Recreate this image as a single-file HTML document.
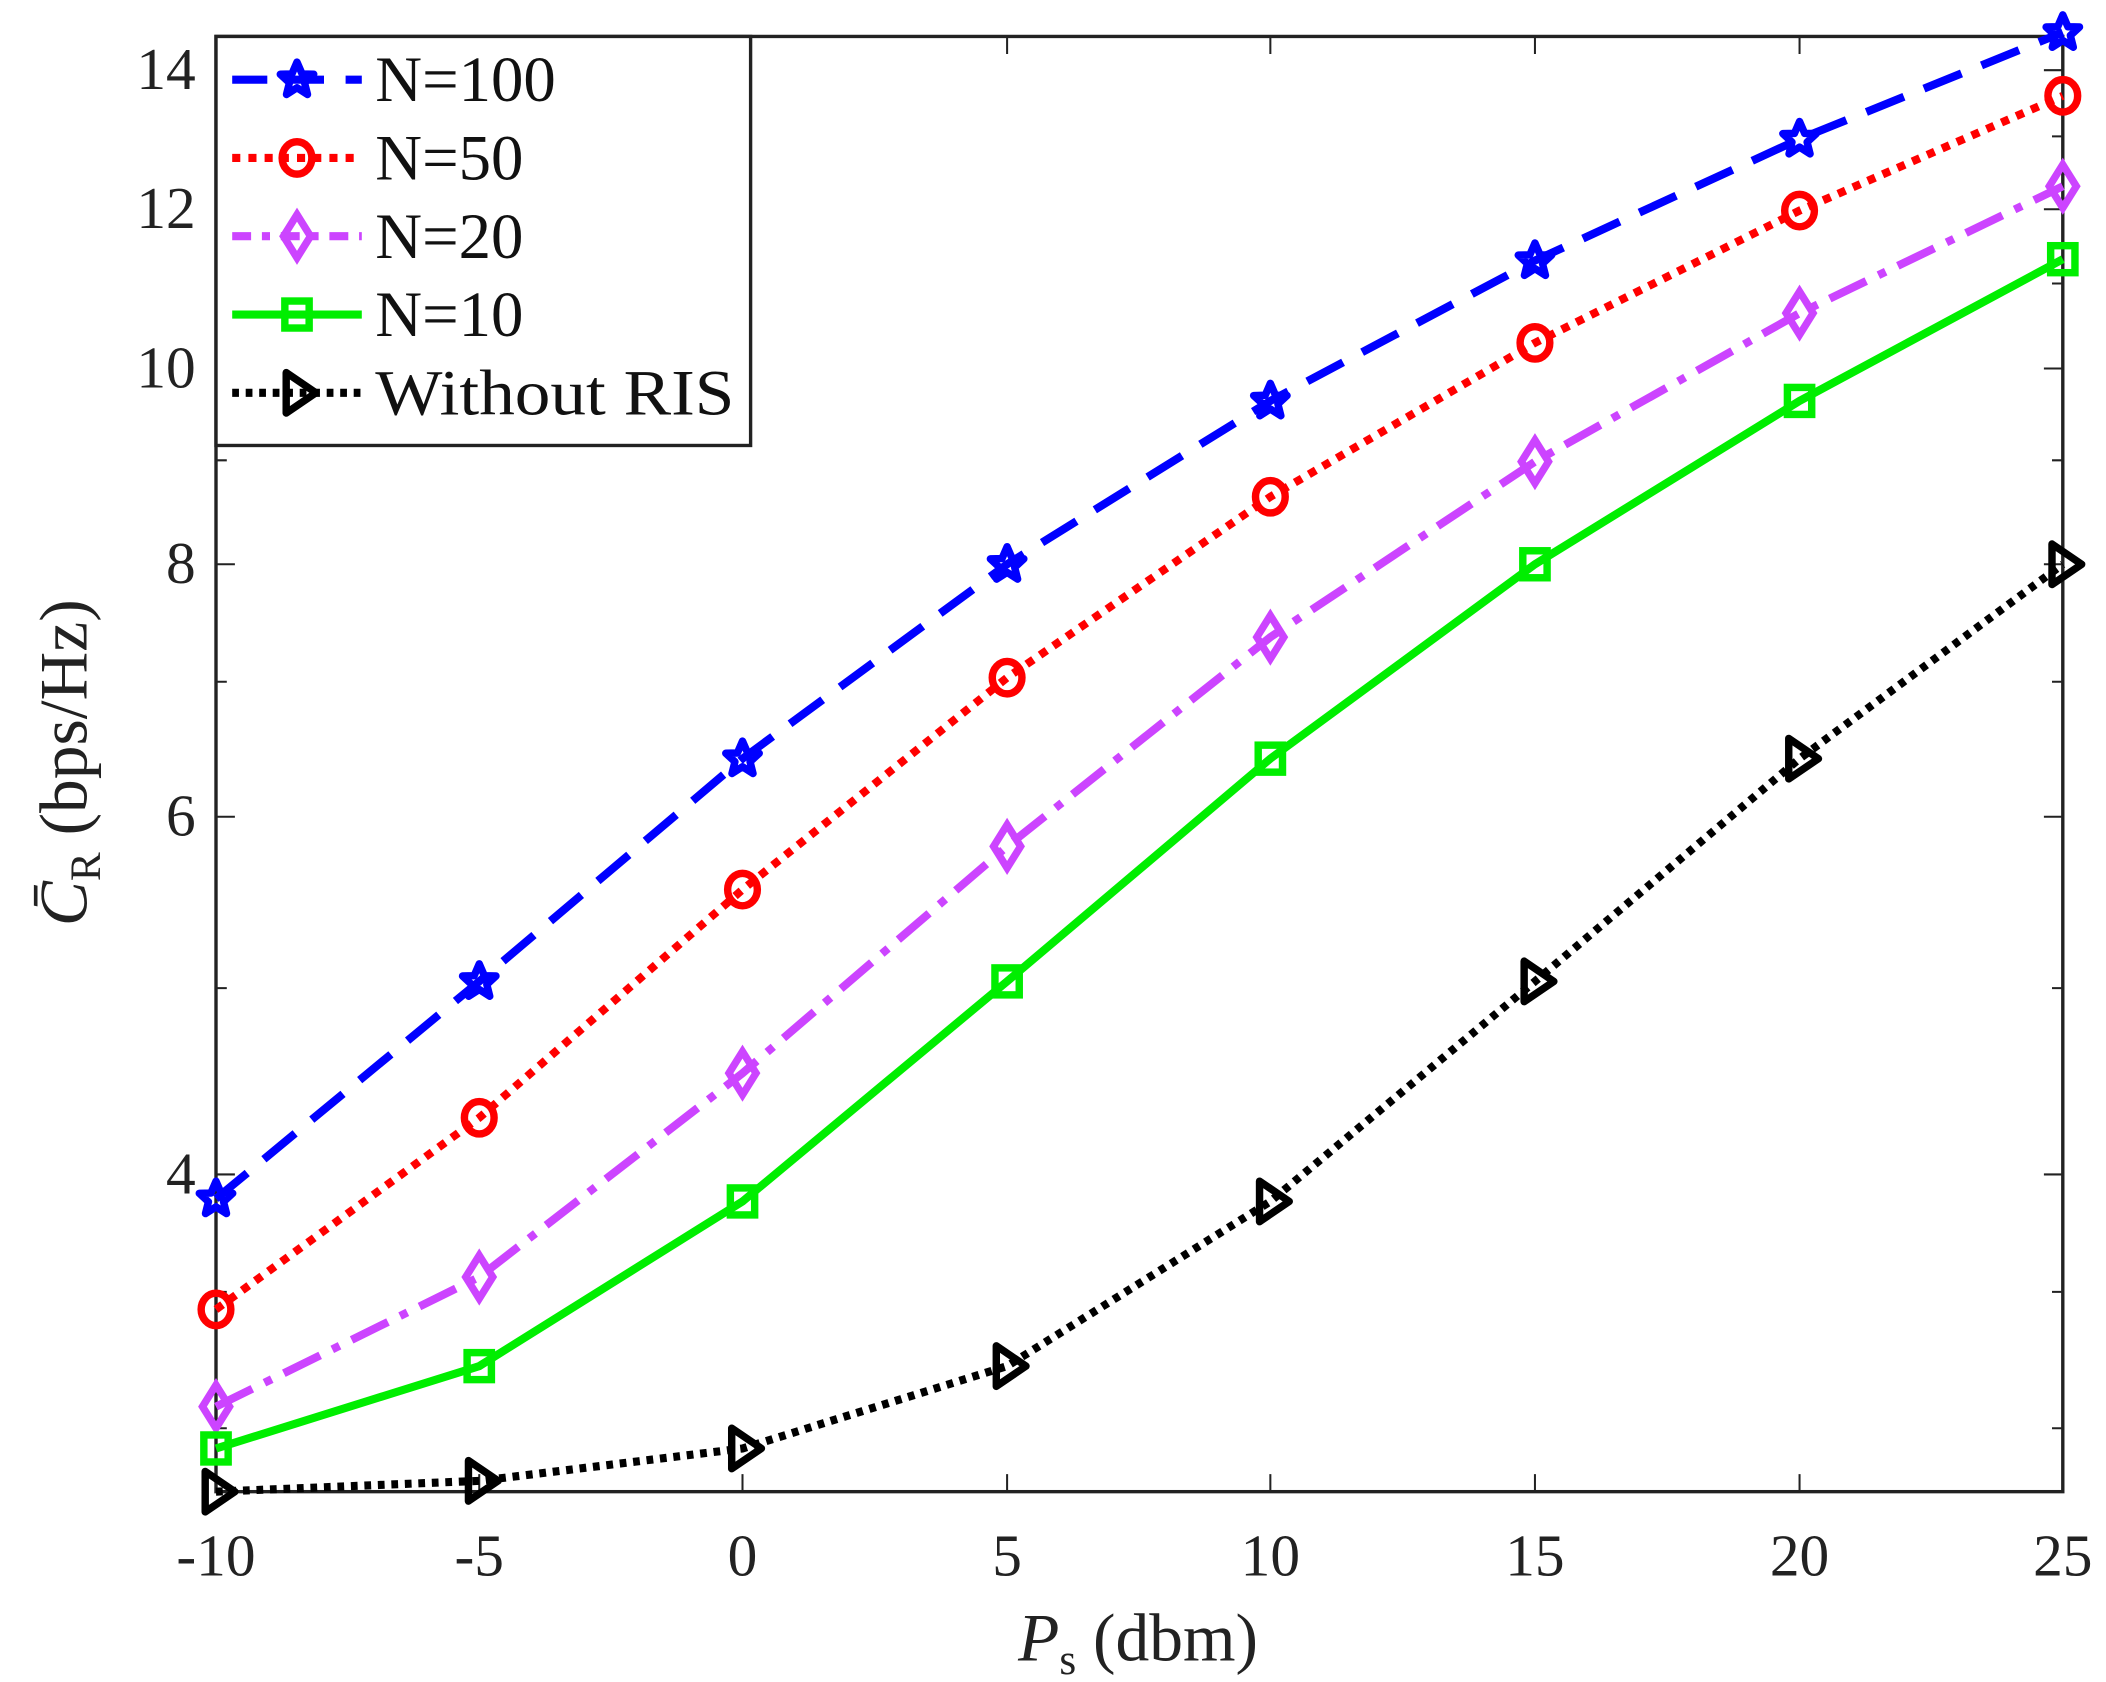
<!DOCTYPE html>
<html><head><style>html,body{margin:0;padding:0;background:#fff}svg{display:block}</style></head><body>
<svg width="2106" height="1682" viewBox="0 0 1560 1246" preserveAspectRatio="none" xmlns="http://www.w3.org/2000/svg" font-family="Liberation Serif, serif">
<defs>
<g id="star"><polygon points="0,-13 3.8,-4.2 12.4,-4 5.6,2.3 7.8,11 0,6 -7.8,11 -5.6,2.3 -12.4,-4 -3.8,-4.2" fill="none" stroke="#0000ff" stroke-width="5.5" stroke-linejoin="round"/></g>
<g id="circ"><ellipse rx="11" ry="12" fill="none" stroke="#ff0000" stroke-width="5.5"/></g>
<g id="dia"><polygon points="0,-16 10,0 0,16 -10,0" fill="none" stroke="#cc44ff" stroke-width="5.5"/></g>
<g id="sq"><rect x="-9" y="-10" width="18" height="20" fill="none" stroke="#00ee00" stroke-width="5.5"/></g>
<g id="tri"><polygon points="-8,-15 14,0 -8,15" fill="none" stroke="#000" stroke-width="5.5" stroke-linejoin="round"/></g>
</defs>
<rect x="160" y="27" width="1368" height="1078" fill="#fff" stroke="#222" stroke-width="2.5"/>
<g stroke="#222" stroke-width="1.5">
<path d="M355 1105v-13M550 1105v-13M746 1105v-13M941 1105v-13M1137 1105v-13M1333 1105v-13M355 27v13M550 27v13M746 27v13M941 27v13M1137 27v13M1333 27v13"/>
<path d="M160 52h14M160 155h14M160 273h14M160 418h14M160 605h14M160 870h14M1528 52h-14M1528 155h-14M1528 273h-14M1528 418h-14M1528 605h-14M1528 870h-14"/>
<path d="M160 101h8M160 210h8M160 341h8M160 505h8M160 732h8M160 957h8M160 1058h8M1528 101h-8M1528 210h-8M1528 341h-8M1528 505h-8M1528 732h-8M1528 957h-8M1528 1058h-8"/>
</g>
<g fill="#222" font-size="44" text-anchor="end">
<text x="145" y="66">14</text><text x="145" y="169">12</text><text x="145" y="287">10</text>
<text x="145" y="432">8</text><text x="145" y="619">6</text><text x="145" y="884">4</text>
</g>
<g fill="#222" font-size="44" text-anchor="middle">
<text x="160" y="1167">-10</text><text x="355" y="1167">-5</text><text x="550" y="1167">0</text>
<text x="746" y="1167">5</text><text x="941" y="1167">10</text><text x="1137" y="1167">15</text>
<text x="1333" y="1167">20</text><text x="1528" y="1167">25</text>
</g>
<text x="843" y="1230" font-size="50" text-anchor="middle" fill="#222"><tspan font-style="italic">P</tspan><tspan font-size="32" dy="10">s</tspan><tspan dy="-10"> (dbm)</tspan></text>
<text transform="translate(64,565) rotate(-90)" font-size="50" text-anchor="middle" fill="#222"><tspan font-style="italic">C̄</tspan><tspan font-size="32" dy="10">R</tspan><tspan dy="-10"> (bps/Hz)</tspan></text>
<g fill="none" stroke-width="6">
<polyline stroke="#0000ff" stroke-dasharray="30,16" points="160,888 355,727 550,562 746,418 941,297 1137,193 1333,103 1528,24"/>
<polyline stroke="#ff0000" stroke-dasharray="6,6" points="160,970 355,828 550,659 746,502 941,368 1137,254 1333,156 1528,71"/>
<polyline stroke="#cc44ff" stroke-dasharray="30,10,6,10" points="160,1042 355,946 550,795 746,627 941,472 1137,342 1333,232 1528,138"/>
<polyline stroke="#00ee00" points="160,1073 355,1012 550,890 746,727 941,562 1137,418 1333,297 1528,192"/>
<polyline stroke="#000" stroke-dasharray="5,5" points="160,1105 355,1097 550,1073 746,1012 941,890 1137,727 1333,562 1528,418"/>
</g>
<g>
<use href="#star" x="160" y="888"/><use href="#star" x="355" y="727"/><use href="#star" x="550" y="562"/><use href="#star" x="746" y="418"/><use href="#star" x="941" y="297"/><use href="#star" x="1137" y="193"/><use href="#star" x="1333" y="103"/><use href="#star" x="1528" y="24"/>
<use href="#circ" x="160" y="970"/><use href="#circ" x="355" y="828"/><use href="#circ" x="550" y="659"/><use href="#circ" x="746" y="502"/><use href="#circ" x="941" y="368"/><use href="#circ" x="1137" y="254"/><use href="#circ" x="1333" y="156"/><use href="#circ" x="1528" y="71"/>
<use href="#dia" x="160" y="1042"/><use href="#dia" x="355" y="946"/><use href="#dia" x="550" y="795"/><use href="#dia" x="746" y="627"/><use href="#dia" x="941" y="472"/><use href="#dia" x="1137" y="342"/><use href="#dia" x="1333" y="232"/><use href="#dia" x="1528" y="138"/>
<use href="#sq" x="160" y="1073"/><use href="#sq" x="355" y="1012"/><use href="#sq" x="550" y="890"/><use href="#sq" x="746" y="727"/><use href="#sq" x="941" y="562"/><use href="#sq" x="1137" y="418"/><use href="#sq" x="1333" y="297"/><use href="#sq" x="1528" y="192"/>
<use href="#tri" x="160" y="1105"/><use href="#tri" x="355" y="1097"/><use href="#tri" x="550" y="1073"/><use href="#tri" x="746" y="1012"/><use href="#tri" x="941" y="890"/><use href="#tri" x="1137" y="727"/><use href="#tri" x="1333" y="562"/><use href="#tri" x="1528" y="418"/>
</g>
<rect x="160" y="27" width="396" height="303" fill="#fff" stroke="#222" stroke-width="2.5"/>
<g fill="none" stroke-width="6">
<line x1="172" y1="59" x2="268" y2="59" stroke="#0000ff" stroke-dasharray="26,16"/>
<line x1="172" y1="117" x2="268" y2="117" stroke="#ff0000" stroke-dasharray="6,6"/>
<line x1="172" y1="175" x2="268" y2="175" stroke="#cc44ff" stroke-dasharray="14,8,6,8"/>
<line x1="172" y1="233" x2="268" y2="233" stroke="#00ee00"/>
<line x1="172" y1="291" x2="268" y2="291" stroke="#000" stroke-dasharray="5,5"/>
</g>
<use href="#star" x="220" y="59"/><use href="#circ" x="220" y="117"/><use href="#dia" x="220" y="175"/><use href="#sq" x="220" y="233"/><use href="#tri" x="220" y="291"/>
<g font-size="48" fill="#111">
<text x="278" y="75">N=100</text><text x="278" y="133">N=50</text><text x="278" y="191">N=20</text><text x="278" y="249">N=10</text><text x="278" y="307" textLength="266" lengthAdjust="spacingAndGlyphs">Without RIS</text>
</g>
</svg>
</body></html>
